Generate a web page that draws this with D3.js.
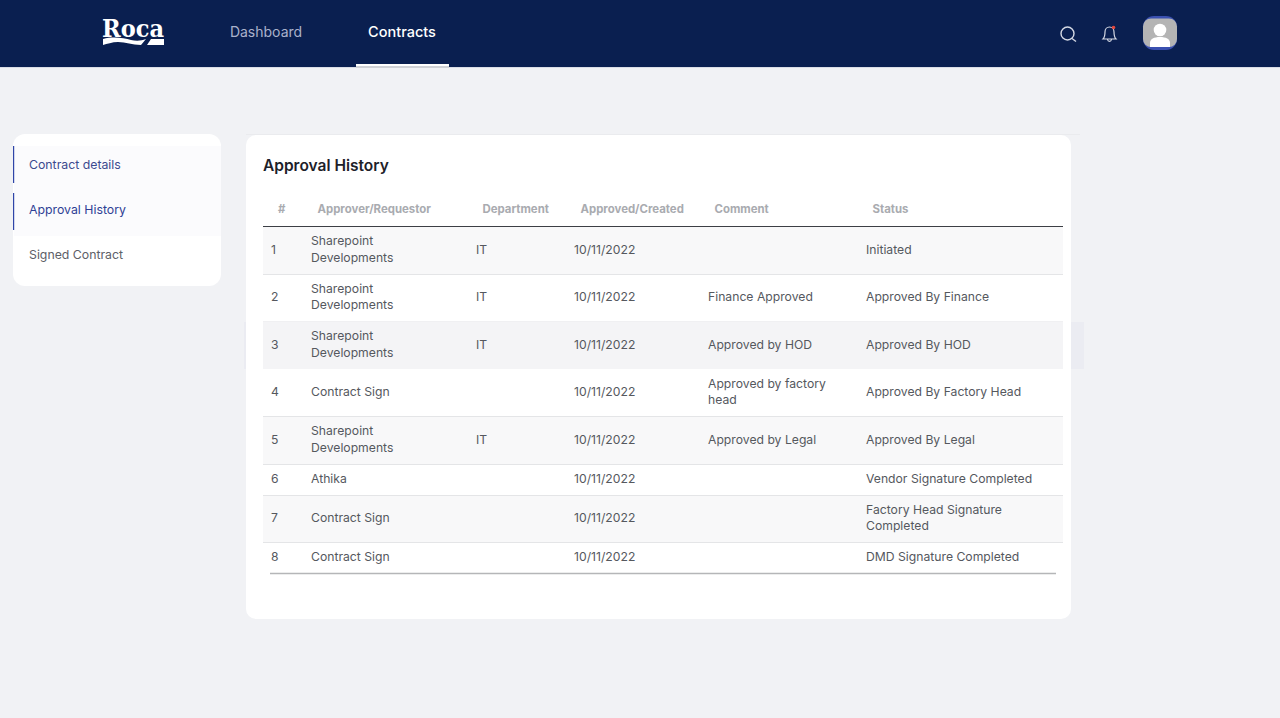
<!DOCTYPE html>
<html>
<head>
<meta charset="utf-8">
<script src="https://cdn.jsdelivr.net/npm/d3@7"></script>
<style>
  html, body { margin: 0; padding: 0; background: #f1f2f5; overflow: hidden; }
  text { font-family: Inter, "Noto Sans", sans-serif; }
</style>
</head>
<body>
<div id="chart"></div>
<script>
const navItems = ["Dashboard", "Contracts"];
const sideItems = ["Contract details", "Approval History", "Signed Contract"];
const columns = ["#", "Approver/Requestor", "Department", "Approved/Created", "Comment", "Status"];
const rowIds = ["1", "2", "3", "4", "5", "6", "7", "8"];
const approvers = [
  ["Sharepoint", "Developments"], ["Sharepoint", "Developments"], ["Sharepoint", "Developments"],
  ["Contract Sign"], ["Sharepoint", "Developments"], ["Athika"], ["Contract Sign"], ["Contract Sign"]
];
const departments = ["IT", "IT", "IT", "", "IT", "", "", ""];
const dates = ["10/11/2022", "10/11/2022", "10/11/2022", "10/11/2022", "10/11/2022", "10/11/2022", "10/11/2022", "10/11/2022"];
const comments = [
  [""], ["Finance Approved"], ["Approved by HOD"], ["Approved by factory", "head"],
  ["Approved by Legal"], [""], [""], [""]
];
const statuses = [
  ["Initiated"], ["Approved By Finance"], ["Approved By HOD"], ["Approved By Factory Head"],
  ["Approved By Legal"], ["Vendor Signature Completed"], ["Factory Head Signature", "Completed"], ["DMD Signature Completed"]
];
const rowLines = [2, 2, 2, 2, 2, 1, 2, 1];

const width = 1280, height = 718;
const svg = d3.select("#chart").append("svg").attr("width", width).attr("height", height)
  .style("display", "block");

svg.append("rect").attr("width", width).attr("height", height).attr("fill", "#f1f2f5");

// ===== Header =====
svg.append("rect").attr("width", width).attr("height", 67).attr("fill", "#0a1f50");
svg.append("rect").attr("y", 67).attr("width", width).attr("height", 1).attr("fill", "#d9dce6");

svg.append("text").attr("x", 102).attr("y", 37).attr("fill", "#fff")
  .attr("font-size", 24).attr("font-weight", 700).style("font-family", "'DejaVu Serif'")
  .attr("textLength", 62).attr("lengthAdjust", "spacingAndGlyphs").text("Roca");
svg.append("path").attr("fill", "#fff")
  .attr("d", "M103,39 C113,36 124,38 131,40 C136,41 141,41 146,39 L141,45 C132,45 126,42 118,42 C112,42 107,44 103,45 Z");
svg.append("path").attr("fill", "#fff").attr("d", "M151,39 L164,39 L164,45 L147,45 Z");

const navX = d3.scaleOrdinal().domain(navItems).range([266, 402]);
svg.selectAll("text.nav").data(navItems).join("text").attr("class", "nav")
  .attr("x", d => navX(d)).attr("y", 37).attr("text-anchor", "middle")
  .attr("font-size", (d, i) => i === 1 ? 14.5 : 14).attr("font-weight", (d, i) => i === 1 ? 500 : 400)
  .attr("fill", (d, i) => i === 1 ? "#ffffff" : "#aab2cb").text(d => d);
svg.append("rect").attr("x", 356).attr("y", 64).attr("width", 93).attr("height", 2).attr("fill", "#fff");
svg.append("rect").attr("x", 356).attr("y", 66).attr("width", 93).attr("height", 2).attr("fill", "#cfd1d6");

// search
svg.append("circle").attr("cx", 1067.5).attr("cy", 33.5).attr("r", 6.5)
  .attr("fill", "none").attr("stroke", "#d5d9e4").attr("stroke-width", 1.4);
svg.append("line").attr("x1", 1072).attr("y1", 38.5).attr("x2", 1076).attr("y2", 41.5)
  .attr("stroke", "#d5d9e4").attr("stroke-width", 1.4);
// bell
svg.append("path").attr("fill", "none").attr("stroke", "#d5d9e4").attr("stroke-width", 1.2)
  .attr("d", "M1103,39 C1105,37 1105,35 1105,32 C1105,29 1107,27 1109.5,27 C1112,27 1114,29 1114,32 C1114,35 1114,37 1116,39 Z M1107.5,39.5 C1108,42 1111,42 1111.5,39.5");
svg.append("circle").attr("cx", 1113.5).attr("cy", 27.5).attr("r", 1.8).attr("fill", "#e0483e");
// avatar
svg.append("rect").attr("x", 1143).attr("y", 16).attr("width", 34).attr("height", 34).attr("rx", 11).attr("fill", "#3a50b0");
svg.append("rect").attr("x", 1143).attr("y", 18.5).attr("width", 34).attr("height", 28.5).attr("rx", 8).attr("fill", "#b4b4b4");
svg.append("circle").attr("cx", 1160).attr("cy", 30).attr("r", 6.3).attr("fill", "#fff");
svg.append("path").attr("fill", "#fff").attr("d", "M1150,47 L1150,43 C1150,39 1154,37 1160,37 C1166,37 1170,39 1170,43 L1170,47 Z");

// ===== Sidebar =====
svg.append("rect").attr("x", 13).attr("y", 134).attr("width", 208).attr("height", 152).attr("rx", 12).attr("fill", "#fff");
const sideY = d3.scalePoint().domain(sideItems).range([169, 259]);
const sideColors = ["#3b4a8f", "#2f3f95", "#5d6068"];
[0, 1].forEach(i => {
  const y = sideY(sideItems[i]);
  svg.append("rect").attr("x", 14).attr("y", y - 23).attr("width", 207).attr("height", 45).attr("fill", "#fbfbfd");
  svg.append("rect").attr("x", 13).attr("y", y - 23 + i * 2).attr("width", 1.2).attr("height", 37).attr("fill", "#2f45a8");
});
svg.selectAll("text.side").data(sideItems).join("text").attr("class", "side")
  .attr("x", 29).attr("y", d => sideY(d) - 0.5).attr("font-size", 12.3)
  .attr("fill", (d, i) => sideColors[i]).text(d => d);

// ===== Card =====
svg.append("rect").attr("x", 244).attr("y", 322).attr("width", 840).attr("height", 47).attr("fill", "#ebecf2");
svg.append("rect").attr("x", 246).attr("y", 134).attr("width", 834).attr("height", 1).attr("fill", "#eaebee");
svg.append("rect").attr("x", 246).attr("y", 135).attr("width", 825).attr("height", 484).attr("rx", 10).attr("fill", "#fff");
svg.append("text").attr("x", 263).attr("y", 171).attr("font-size", 15.5).attr("font-weight", 600)
  .attr("fill", "#1d2129").text("Approval History");

// ===== Table =====
const tableLeft = 263, tableRight = 1063, tableTop = 226.5;
const colX = d3.scaleOrdinal().domain(columns).range([271, 311, 476, 574, 708, 866]);
const lineH = 16.5;

// row tops come from how many text lines each row holds
const rowTops = [tableTop];
rowLines.forEach(n => rowTops.push(rowTops[rowTops.length - 1] + (n === 2 ? 47.5 : 31)));
const ruleY = y => Math.floor(y) + 0.5;

svg.selectAll("text.head").data(columns).join("text").attr("class", "head")
  .attr("x", d => colX(d) + (d === "#" ? 7 : 6.5)).attr("y", 213)
  .attr("font-size", 11.4).attr("font-weight", 700).attr("fill", "#a9abb0").text(d => d);

// row backgrounds first, so the rules below stay on top of them
rowIds.forEach((id, i) => {
  const y0 = rowTops[i], y1 = rowTops[i + 1];
  const fill = i === 2 ? "#f4f4f6" : i % 2 === 0 ? "#f8f8f9" : "#ffffff";
  svg.append("rect").attr("x", tableLeft).attr("y", y0).attr("width", tableRight - tableLeft).attr("height", y1 - y0).attr("fill", fill);
});

rowIds.forEach((id, i) => {
  const y0 = rowTops[i], y1 = rowTops[i + 1], cy = (y0 + y1) / 2;
  if (i < rowIds.length - 1 && i !== 2) {
    svg.append("line").attr("x1", tableLeft).attr("x2", tableRight).attr("y1", ruleY(y1)).attr("y2", ruleY(y1))
      .attr("stroke", i === 1 ? "#f0f0f2" : "#e4e5e7").attr("stroke-width", 1);
  }
  const cells = [[id], approvers[i], [departments[i]], [dates[i]], comments[i], statuses[i]];
  cells.forEach((lines, c) => {
    lines.forEach((t, k) => {
      if (!t) return;
      svg.append("text").attr("x", colX(columns[c]))
        .attr("y", cy + 3.4 + (k - (lines.length - 1) / 2) * lineH)
        .attr("font-size", 12.2).attr("fill", "#55585e").text(t);
    });
  });
});

svg.append("line").attr("x1", tableLeft).attr("x2", tableRight).attr("y1", ruleY(tableTop)).attr("y2", ruleY(tableTop))
  .attr("stroke", "#3c3f45").attr("stroke-width", 1);
const tableEnd = rowTops[rowTops.length - 1];
svg.append("line").attr("x1", 270).attr("x2", 1056).attr("y1", tableEnd).attr("y2", tableEnd)
  .attr("stroke", "#b5b6b8").attr("stroke-width", 1.5);
</script>
</body>
</html>
